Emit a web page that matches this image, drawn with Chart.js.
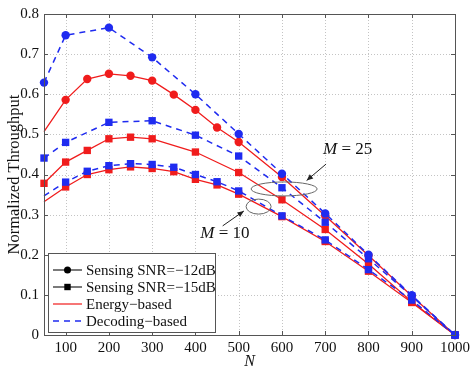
<!DOCTYPE html>
<html>
<head>
<meta charset="utf-8">
<script src="https://cdn.jsdelivr.net/npm/chart.js@4/dist/chart.umd.min.js"></script>
<style>
  body { margin: 0; background: #fff; }
  #wrap { width: 474px; height: 371px; }
</style>
</head>
<body>
<div id="wrap"><canvas id="tputChart" width="474" height="371"></canvas></div>
<script>
// x positions (number of samples N)
const nCoarse = [50, 100, 200, 300, 400, 500, 600, 700, 800, 900, 1000];
const nFine = [50, 100, 150, 200, 250, 300, 350, 400, 450, 500, 600, 700, 800, 900, 1000];
const nEnergy15 = [50, 100, 150, 200, 250, 300, 400, 500, 600, 700, 800, 900, 1000];

// throughput
const decodingM25Snr12 = [0.629, 0.747, 0.766, 0.692, 0.600, 0.501, 0.402, 0.303, 0.200, 0.099, 0];
const energyM25Snr12 = [0.507, 0.586, 0.638, 0.651, 0.646, 0.634, 0.599, 0.561, 0.517, 0.481, 0.394, 0.297, 0.198, 0.097, 0];
const decodingM25Snr15 = [0.441, 0.480, 0.530, 0.534, 0.498, 0.446, 0.367, 0.281, 0.190, 0.097, 0];
const energyM25Snr15 = [0.378, 0.431, 0.460, 0.489, 0.493, 0.489, 0.456, 0.405, 0.337, 0.263, 0.177, 0.083, 0];
const decodingM10Snr15 = [0.347, 0.381, 0.408, 0.422, 0.427, 0.425, 0.418, 0.400, 0.382, 0.359, 0.297, 0.237, 0.163, 0.087, 0];
const energyM10Snr15 = [0.332, 0.369, 0.400, 0.412, 0.419, 0.415, 0.407, 0.388, 0.374, 0.351, 0.295, 0.233, 0.159, 0.081, 0];

const xTickValues = [100, 200, 300, 400, 500, 600, 700, 800, 900, 1000];
const yTickValues = [0, 0.1, 0.2, 0.3, 0.4, 0.5, 0.6, 0.7, 0.8];
const legendLabels = ['Sensing SNR=\u221212dB', 'Sensing SNR=\u221215dB', 'Energy\u2212based', 'Decoding\u2212based'];

const RED = '#f01c1c';
const BLUE = '#1f2bf0';
const SERIF = '"Liberation Serif", "DejaVu Serif", serif';

function pts(xs, ys) {
    return xs.map((x, i) => ({ x: x, y: ys[i] }));
}

function series(xs, ys, decoding, marker, hideFirst) {
    const color = decoding ? BLUE : RED;
    const r = marker === 'circle' ? 4.2 : 5.2;
    return {
        data: pts(xs, ys),
        borderColor: color,
        backgroundColor: color,
        borderWidth: decoding ? 1.5 : 1.3,
        borderDash: decoding ? [6, 5] : [],
        pointStyle: marker === 'circle' ? 'circle' : 'rect',
        pointRadius: ctx => (hideFirst && ctx.dataIndex === 0) ? 0 : r,
        pointBorderWidth: 0,
        pointBackgroundColor: color,
        tension: 0,
        clip: false
    };
}

// frame, dotted grid, inward ticks, legend and the M annotations
const matlabLook = {
    id: 'matlabLook',
    beforeDatasetsDraw(chart) {
        const { ctx, chartArea: ca, scales } = chart;
        ctx.save();
        ctx.strokeStyle = '#c4c4c4';
        ctx.lineWidth = 1;
        ctx.setLineDash([1, 2]);
        xTickValues.forEach(v => {
            const px = Math.round(scales.x.getPixelForValue(v)) + 0.5;
            if (px > ca.right - 2) return;
            ctx.beginPath(); ctx.moveTo(px, ca.top); ctx.lineTo(px, ca.bottom); ctx.stroke();
        });
        yTickValues.forEach(v => {
            const py = Math.round(scales.y.getPixelForValue(v)) + 0.5;
            if (py < ca.top + 2 || py > ca.bottom - 2) return;
            ctx.beginPath(); ctx.moveTo(ca.left, py); ctx.lineTo(ca.right, py); ctx.stroke();
        });
        ctx.restore();
    },
    afterDraw(chart) {
        const { ctx, chartArea: ca, scales } = chart;
        ctx.save();
        // axes box
        ctx.strokeStyle = '#555';
        ctx.lineWidth = 1;
        ctx.setLineDash([]);
        ctx.strokeRect(Math.round(ca.left) + 0.5, Math.round(ca.top) + 0.5,
            Math.round(ca.right - ca.left), Math.round(ca.bottom - ca.top));
        const tl = 4;
        ctx.beginPath();
        xTickValues.forEach(v => {
            const px = Math.round(scales.x.getPixelForValue(v)) + 0.5;
            ctx.moveTo(px, ca.bottom); ctx.lineTo(px, ca.bottom - tl);
            ctx.moveTo(px, ca.top); ctx.lineTo(px, ca.top + tl);
        });
        yTickValues.forEach(v => {
            const py = Math.round(scales.y.getPixelForValue(v)) + 0.5;
            ctx.moveTo(ca.left, py); ctx.lineTo(ca.left + tl, py);
            ctx.moveTo(ca.right, py); ctx.lineTo(ca.right - tl, py);
        });
        ctx.stroke();

        // legend
        const lx = ca.left + 4, ly = ca.bottom - 82, lw = 167, lh = 79;
        ctx.fillStyle = '#fff';
        ctx.fillRect(lx, ly, lw, lh);
        ctx.strokeStyle = '#555';
        ctx.strokeRect(lx + 0.5, ly + 0.5, lw, lh);
        ctx.font = '15px ' + SERIF;
        ctx.textBaseline = 'middle';
        const rowY = [17, 34, 51, 68];
        legendLabels.forEach((label, i) => {
            const y = ly + rowY[i];
            const x0 = lx + 5, x1 = lx + 34;
            ctx.lineWidth = i === 3 ? 1.4 : 1.2;
            ctx.strokeStyle = i < 2 ? '#222' : (i === 2 ? RED : BLUE);
            ctx.setLineDash(i === 3 ? [6, 5] : []);
            ctx.beginPath(); ctx.moveTo(x0, y); ctx.lineTo(x1, y); ctx.stroke();
            ctx.setLineDash([]);
            ctx.fillStyle = '#000';
            if (i === 0) { ctx.beginPath(); ctx.arc((x0 + x1) / 2, y, 3.5, 0, Math.PI * 2); ctx.fill(); }
            if (i === 1) { ctx.fillRect((x0 + x1) / 2 - 3.2, y - 3.2, 6.4, 6.4); }
            ctx.fillStyle = '#111';
            ctx.fillText(label, lx + 38, y + 1);
        });

        // M annotations
        const X = v => scales.x.getPixelForValue(v), Y = v => scales.y.getPixelForValue(v);
        ctx.strokeStyle = '#666';
        ctx.lineWidth = 1;
        ctx.beginPath(); ctx.ellipse(X(605), Y(0.364), 33, 7, 0, 0, Math.PI * 2); ctx.stroke();
        ctx.beginPath(); ctx.ellipse(X(546), Y(0.320), 12.5, 7.5, 0, 0, Math.PI * 2); ctx.stroke();

        function arrow(x0, y0, x1, y1) {
            ctx.strokeStyle = '#222';
            ctx.fillStyle = '#222';
            ctx.beginPath(); ctx.moveTo(x0, y0); ctx.lineTo(x1, y1); ctx.stroke();
            const a = Math.atan2(y1 - y0, x1 - x0), h = 7;
            ctx.beginPath();
            ctx.moveTo(x1, y1);
            ctx.lineTo(x1 - h * Math.cos(a - 0.4), y1 - h * Math.sin(a - 0.4));
            ctx.lineTo(x1 - h * Math.cos(a + 0.4), y1 - h * Math.sin(a + 0.4));
            ctx.closePath(); ctx.fill();
        }
        arrow(X(702), Y(0.426), X(657), Y(0.385));
        arrow(X(463), Y(0.272), X(512), Y(0.309));

        function mLabel(cx, cy, num) {
            ctx.fillStyle = '#111';
            ctx.textBaseline = 'middle';
            ctx.font = 'italic 17px ' + SERIF;
            const mw = ctx.measureText('M').width;
            ctx.font = '17px ' + SERIF;
            const rest = ' = ' + num;
            const rw = ctx.measureText(rest).width;
            const start = cx - (mw + rw) / 2;
            ctx.font = 'italic 17px ' + SERIF;
            ctx.textAlign = 'left';
            ctx.fillText('M', start, cy);
            ctx.font = '17px ' + SERIF;
            ctx.fillText(rest, start + mw, cy);
        }
        mLabel(X(752), Y(0.463), 25);
        mLabel(X(468), Y(0.252), 10);
        ctx.restore();
    }
};

const ctx = document.getElementById('tputChart').getContext('2d');
const chart = new Chart(ctx, {
    type: 'line',
    data: {
        datasets: [
            series(nCoarse, decodingM25Snr12, true, 'circle', false),
            series(nCoarse, decodingM25Snr15, true, 'rect', false),
            series(nFine, decodingM10Snr15, true, 'rect', true),
            series(nFine, energyM25Snr12, false, 'circle', true),
            series(nEnergy15, energyM25Snr15, false, 'rect', false),
            series(nFine, energyM10Snr15, false, 'rect', true)
        ]
    },
    options: {
        responsive: false,
        devicePixelRatio: 1,
        animation: false,
        layout: { padding: { top: 12, right: 18, left: 0, bottom: 0 } },
        plugins: { legend: { display: false }, tooltip: { enabled: false } },
        scales: {
            x: {
                type: 'linear',
                min: 50,
                max: 1000,
                afterBuildTicks: s => { s.ticks = xTickValues.map(v => ({ value: v })); },
                afterFit: s => { s.height = 36; },
                grid: { display: false, drawTicks: false },
                border: { display: false },
                ticks: {
                    color: '#111', font: { family: SERIF, size: 15 }, padding: 4, maxRotation: 0,
                    callback: v => String(v)
                },
                title: { display: true, text: 'N', color: '#111', font: { family: SERIF, size: 16, style: 'italic' }, padding: { top: -3, bottom: 0 } }
            },
            y: {
                min: 0,
                max: 0.8,
                afterBuildTicks: s => { s.ticks = yTickValues.map(v => ({ value: v })); },
                afterFit: s => { s.width = 44; },
                grid: { display: false, drawTicks: false },
                border: { display: false },
                ticks: {
                    color: '#111', font: { family: SERIF, size: 15 }, padding: 5,
                    callback: v => v === 0 ? '0' : v.toFixed(1)
                },
                title: { display: true, text: 'Normalized Throughput', color: '#111', font: { family: SERIF, size: 16.5 }, padding: { top: 5, bottom: 0 } }
            }
        }
    },
    plugins: [matlabLook]
});
</script>
</body>
</html>
